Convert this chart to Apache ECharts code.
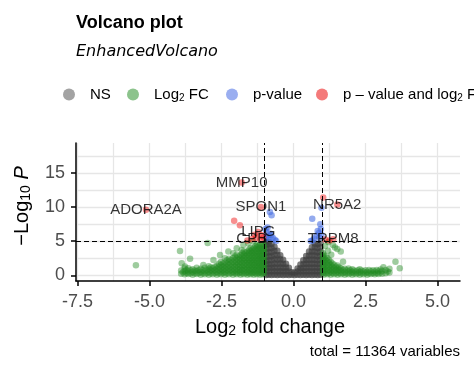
<!DOCTYPE html>
<html>
<head>
<meta charset="utf-8">
<script src="https://cdn.jsdelivr.net/npm/echarts@6/dist/echarts.min.js"></script>
<style>
html,body{margin:0;padding:0;background:#fff;}
#chart{width:474px;height:381px;}
</style>
</head>
<body>
<div id="chart"></div>
<script>
// ---------- data ----------
var X_TICKS = [-7.5, -5, -2.5, 0, 2.5, 5];
var Y_TICKS = [0, 5, 10, 15];
var X_GRID = [-7.5, -6.25, -5, -3.75, -2.5, -1.25, 0, 1.25, 2.5, 3.75, 5];
var Y_GRID = [0, 2.5, 5, 7.5, 10, 12.5, 15, 17.5];
var FC_CUTOFF = [-1, 1];
var P_CUTOFF = 5;

// NS: not significant (grey volcano body)
var NS_POINTS = [
  [-0.95,0.05],[-0.95,0.55],[-0.95,1.05],[-0.95,1.6],[-0.95,2.1],[-0.95,2.7],[-0.95,3.3],[-0.95,3.9],[-0.95,4.5],[-0.95,4.9],
  [-0.86,0.1],[-0.86,0.6],[-0.86,1.1],[-0.86,1.65],[-0.86,2.2],[-0.86,2.8],[-0.86,3.4],[-0.86,4.0],[-0.86,4.6],[-0.86,4.9],
  [-0.76,0.05],[-0.76,0.55],[-0.76,1.1],[-0.76,1.6],[-0.76,2.2],[-0.76,2.8],[-0.76,3.4],[-0.76,4.0],[-0.76,4.6],
  [-0.66,0.1],[-0.66,0.6],[-0.66,1.15],[-0.66,1.75],[-0.66,2.35],[-0.66,2.95],[-0.66,3.6],[-0.66,4.2],
  [-0.56,0.05],[-0.56,0.55],[-0.56,1.1],[-0.56,1.7],[-0.56,2.3],[-0.56,2.95],[-0.56,3.6],
  [-0.46,0.1],[-0.46,0.6],[-0.46,1.15],[-0.46,1.75],[-0.46,2.35],[-0.46,2.95],
  [-0.36,0.05],[-0.36,0.55],[-0.36,1.1],[-0.36,1.7],[-0.36,2.3],
  [-0.26,0.1],[-0.26,0.6],[-0.26,1.15],[-0.26,1.7],
  [-0.16,0.05],[-0.16,0.55],[-0.16,1.1],
  [-0.06,0.1],[-0.06,0.45],
  [0.04,0.05],[0.04,0.4],
  [0.14,0.1],[0.14,0.55],[0.14,1.0],
  [0.24,0.05],[0.24,0.55],[0.24,1.05],[0.24,1.6],
  [0.34,0.1],[0.34,0.6],[0.34,1.1],[0.34,1.65],[0.34,2.2],
  [0.44,0.05],[0.44,0.55],[0.44,1.1],[0.44,1.7],[0.44,2.3],[0.44,2.85],
  [0.54,0.1],[0.54,0.6],[0.54,1.15],[0.54,1.7],[0.54,2.3],[0.54,2.9],[0.54,3.5],
  [0.64,0.05],[0.64,0.55],[0.64,1.1],[0.64,1.7],[0.64,2.3],[0.64,2.9],[0.64,3.5],[0.64,4.1],
  [0.74,0.1],[0.74,0.6],[0.74,1.15],[0.74,1.7],[0.74,2.3],[0.74,2.9],[0.74,3.5],[0.74,4.1],[0.74,4.65],
  [0.84,0.05],[0.84,0.55],[0.84,1.1],[0.84,1.65],[0.84,2.2],[0.84,2.8],[0.84,3.4],[0.84,4.0],[0.84,4.6],
  [0.94,0.1],[0.94,0.6],[0.94,1.1],[0.94,1.7],[0.94,2.3],[0.94,2.9],[0.94,3.5],[0.94,4.1],[0.94,4.7]
];

// Log2 FC only (green)
var FC_POINTS = [
  [-5.47,1.47],[-3.94,3.55],[-2.98,4.75],[-3.59,2.45],[-3.88,1.76],[-3.77,1.28],[-3.65,1.05],[-2.78,2.25],
  [-3.13,1.5],[-3.36,1.13],[-2.55,2.98],[-2.38,2.5],[-2.26,3.48],[-2.09,3.24],[-1.97,3.97],[-1.8,3.72],
  [-1.74,4.46],[-1.57,4.7],[-1.4,4.95],
  [-3.9,0.25],[-3.9,0.7],
  [-3.84,0.45],
  [-3.78,0.15],[-3.78,0.6],[-3.78,1.0],
  [-3.71,0.35],[-3.71,0.8],
  [-3.65,0.2],[-3.65,0.55],
  [-3.57,0.3],[-3.57,0.75],
  [-3.5,0.1],[-3.5,0.5],[-3.5,0.9],
  [-3.43,0.3],[-3.43,0.7],
  [-3.36,0.2],[-3.36,0.6],
  [-3.29,0.35],[-3.29,0.8],
  [-3.22,0.1],[-3.22,0.5],[-3.22,0.95],
  [-3.15,0.3],[-3.15,0.75],
  [-3.08,0.15],[-3.08,0.6],[-3.08,1.1],
  [-3.01,0.35],[-3.01,0.8],
  [-2.94,0.1],[-2.94,0.5],[-2.94,0.95],[-2.94,1.35],
  [-2.87,0.3],[-2.87,0.75],[-2.87,1.15],
  [-2.8,0.15],[-2.8,0.6],[-2.8,1.05],
  [-2.73,0.35],[-2.73,0.8],[-2.73,1.25],
  [-2.66,0.1],[-2.66,0.5],[-2.66,0.95],[-2.66,1.4],
  [-2.59,0.3],[-2.59,0.75],[-2.59,1.2],[-2.59,1.7],
  [-2.52,0.15],[-2.52,0.55],[-2.52,1.0],[-2.52,1.5],[-2.52,1.95],
  [-2.45,0.35],[-2.45,0.8],[-2.45,1.25],[-2.45,1.7],
  [-2.38,0.1],[-2.38,0.5],[-2.38,0.95],[-2.38,1.4],[-2.38,1.9],
  [-2.31,0.3],[-2.31,0.75],[-2.31,1.2],[-2.31,1.7],[-2.31,2.2],
  [-2.24,0.15],[-2.24,0.6],[-2.24,1.05],[-2.24,1.5],[-2.24,2.0],[-2.24,2.45],
  [-2.17,0.35],[-2.17,0.8],[-2.17,1.25],[-2.17,1.75],[-2.17,2.25],
  [-2.1,0.1],[-2.1,0.5],[-2.1,0.95],[-2.1,1.45],[-2.1,1.95],[-2.1,2.5],
  [-2.03,0.3],[-2.03,0.75],[-2.03,1.25],[-2.03,1.75],[-2.03,2.25],[-2.03,2.75],
  [-1.97,0.15],[-1.97,0.55],[-1.97,1.0],[-1.97,1.5],[-1.97,2.0],[-1.97,2.5],[-1.97,3.0],
  [-1.9,0.35],[-1.9,0.8],[-1.9,1.25],[-1.9,1.75],[-1.9,2.25],[-1.9,2.75],
  [-1.84,0.1],[-1.84,0.5],[-1.84,0.95],[-1.84,1.45],[-1.84,1.95],[-1.84,2.45],[-1.84,2.95],
  [-1.78,0.3],[-1.78,0.8],[-1.78,1.3],[-1.78,1.8],[-1.78,2.3],[-1.78,2.8],[-1.78,3.25],
  [-1.72,0.15],[-1.72,0.6],[-1.72,1.05],[-1.72,1.55],[-1.72,2.05],[-1.72,2.55],[-1.72,3.05],[-1.72,3.5],
  [-1.66,0.35],[-1.66,0.85],[-1.66,1.3],[-1.66,1.8],[-1.66,2.3],[-1.66,2.8],[-1.66,3.3],
  [-1.6,0.1],[-1.6,0.5],[-1.6,1.0],[-1.6,1.5],[-1.6,2.0],[-1.6,2.5],[-1.6,3.0],[-1.6,3.5],
  [-1.54,0.3],[-1.54,0.8],[-1.54,1.3],[-1.54,1.8],[-1.54,2.3],[-1.54,2.8],[-1.54,3.3],[-1.54,3.8],
  [-1.49,0.15],[-1.49,0.55],[-1.49,1.05],[-1.49,1.55],[-1.49,2.05],[-1.49,2.55],[-1.49,3.05],[-1.49,3.55],[-1.49,4.0],
  [-1.43,0.35],[-1.43,0.85],[-1.43,1.3],[-1.43,1.8],[-1.43,2.3],[-1.43,2.8],[-1.43,3.3],[-1.43,3.8],
  [-1.38,0.1],[-1.38,0.5],[-1.38,1.0],[-1.38,1.5],[-1.38,2.0],[-1.38,2.5],[-1.38,3.0],[-1.38,3.5],[-1.38,4.0],
  [-1.32,0.3],[-1.32,0.8],[-1.32,1.3],[-1.32,1.8],[-1.32,2.3],[-1.32,2.8],[-1.32,3.3],[-1.32,3.8],[-1.32,4.3],
  [-1.27,0.15],[-1.27,0.6],[-1.27,1.1],[-1.27,1.6],[-1.27,2.1],[-1.27,2.6],[-1.27,3.1],[-1.27,3.6],[-1.27,4.1],[-1.27,4.5],
  [-1.21,0.35],[-1.21,0.85],[-1.21,1.35],[-1.21,1.85],[-1.21,2.35],[-1.21,2.85],[-1.21,3.35],[-1.21,3.85],[-1.21,4.3],
  [-1.16,0.1],[-1.16,0.5],[-1.16,1.0],[-1.16,1.5],[-1.16,2.0],[-1.16,2.5],[-1.16,3.0],[-1.16,3.5],[-1.16,4.0],[-1.16,4.5],
  [-1.11,0.3],[-1.11,0.8],[-1.11,1.3],[-1.11,1.8],[-1.11,2.3],[-1.11,2.8],[-1.11,3.3],[-1.11,3.8],[-1.11,4.3],
  [-1.06,0.15],[-1.06,0.55],[-1.06,1.05],[-1.06,1.55],[-1.06,2.05],[-1.06,2.55],[-1.06,3.05],[-1.06,3.55],[-1.06,4.05],[-1.06,4.6],
  [-1.02,0.35],[-1.02,0.85],[-1.02,1.35],[-1.02,1.85],[-1.02,2.35],[-1.02,2.85],[-1.02,3.35],[-1.02,3.85],[-1.02,4.35],
  [1.37,4.46],[1.52,3.87],[1.64,3.48],[1.31,3.0],[1.72,2.0],[3.54,2.0],[3.69,1.03],[3.12,1.2],
  [1.21,4.9],[1.1,4.3],[1.44,4.07],[1.2,3.6],
  [1.02,0.3],[1.02,0.8],[1.02,1.3],[1.02,1.8],[1.02,2.3],[1.02,2.8],[1.02,3.3],
  [1.05,0.1],[1.05,0.55],[1.05,1.0],[1.05,1.5],[1.05,2.0],[1.05,2.5],[1.05,3.0],
  [1.11,0.35],[1.11,0.85],[1.11,1.3],[1.11,1.8],[1.11,2.3],[1.11,2.8],
  [1.17,0.15],[1.17,0.6],[1.17,1.05],[1.17,1.55],[1.17,2.05],[1.17,2.55],
  [1.23,0.35],[1.23,0.8],[1.23,1.3],[1.23,1.8],[1.23,2.25],
  [1.29,0.1],[1.29,0.55],[1.29,1.0],[1.29,1.5],[1.29,2.0],
  [1.35,0.35],[1.35,0.8],[1.35,1.25],[1.35,1.75],
  [1.41,0.15],[1.41,0.6],[1.41,1.05],[1.41,1.55],
  [1.47,0.35],[1.47,0.8],[1.47,1.25],
  [1.53,0.1],[1.53,0.55],[1.53,1.0],[1.53,1.45],
  [1.59,0.35],[1.59,0.8],[1.59,1.2],
  [1.65,0.15],[1.65,0.6],[1.65,1.05],
  [1.71,0.35],[1.71,0.8],
  [1.78,0.1],[1.78,0.5],[1.78,0.95],
  [1.84,0.3],[1.84,0.75],
  [1.91,0.15],[1.91,0.55],[1.91,1.0],
  [1.97,0.35],[1.97,0.75],
  [2.04,0.1],[2.04,0.5],[2.04,0.9],
  [2.1,0.3],[2.1,0.7],
  [2.17,0.15],[2.17,0.55],
  [2.23,0.35],[2.23,0.75],
  [2.3,0.1],[2.3,0.5],[2.3,0.9],
  [2.36,0.3],[2.36,0.7],
  [2.43,0.15],[2.43,0.55],
  [2.5,0.35],[2.5,0.75],
  [2.56,0.1],[2.56,0.5],
  [2.62,0.3],[2.62,0.8],
  [2.69,0.2],[2.69,0.6],
  [2.76,0.35],[2.76,0.75],
  [2.82,0.15],[2.82,0.55],
  [2.89,0.35],[2.89,0.8],
  [2.95,0.2],[2.95,0.6],
  [3.02,0.4],[3.02,0.85],
  [3.08,0.25],[3.08,0.65],
  [3.2,0.3],[3.2,0.8],
  [3.27,0.55],
  [3.33,0.4],[3.33,0.95]
];

// p-value only (blue)
var P_POINTS = [
  [-0.82,9.3],[-0.76,8.8],[-0.93,6.3],[-0.88,5.8],[-0.8,6.1],[-0.72,5.5],[-0.65,5.2],[-0.85,5.35],
  [-0.95,5.6],[-0.78,5.9],[-0.6,5.05],[-0.9,7.0],[-0.97,6.8],
  [0.65,8.3],[0.97,9.9],[0.93,7.5],[0.95,6.8],[0.88,6.2],[0.8,5.8],[0.72,5.4],[0.9,5.5],
  [0.66,5.1],[0.97,5.9],[0.84,6.5],[0.6,5.05]
];

// p-value and log2 FC (red)
var FCP_POINTS = [
  [-5.12,9.6],[-1.8,13.6],[-1.13,10.0],[-2.06,8.0],[-1.86,7.35],[-1.22,6.37],[-1.1,5.88],[-1.3,5.5],
  [-1.45,5.3],[-1.15,5.25],[-1.05,5.6],[-1.6,5.1],[-1.35,5.95],
  [1.03,11.4],[1.52,10.4],[1.1,5.25],[1.25,5.1],[1.38,5.3]
];
// gene labels: index into FCP_POINTS
var GENE_NAMES = ['ADORA2A','MMP10','SPON1','LIPG','CPB','NR5A2','TRPM8'];
var GENE_INDEX = [0, 1, 2, 5, 8, 14, 17];

var TOTAL = 11364;

// ---------- styling / layout ----------
var FONT = 'Liberation Sans, Arial, Helvetica, sans-serif';
var LABEL_OFFSETS = [[0,1],[0,0],[0,2],[7,-4],[-10,2],[-1,2],[1,-2]];

var labelData = GENE_INDEX.map(function (idx, k) {
  return {
    value: FCP_POINTS[idx],
    label: {
      show: true, position: 'inside', formatter: GENE_NAMES[k],
      color: '#000', fontSize: 15, fontFamily: FONT, offset: LABEL_OFFSETS[k]
    }
  };
});

var X_MIN = -7.55, X_MAX = 5.78, Y_MIN = -0.83, Y_MAX = 19.4;
var SYM = 6.5;

function legend(left, name, iconColor) {
  return {
    left: left, top: 87, padding: 0, itemWidth: 12, itemHeight: 12, icon: 'circle',
    selectedMode: false,
    data: [{ name: name, itemStyle: { color: iconColor, opacity: 1 } }],
    formatter: function (n) {
      if (n === 'Log2 FC') return '{n|Log}{s|2}{n| FC}';
      if (n === 'p - value and log2 FC') return '{n|p – value and log}{s|2}{n| FC}';
      return '{n|' + n + '}';
    },
    textStyle: {
      padding: [0, 0, 0, 10],
      rich: {
        n: { fontSize: 15, color: '#000', fontFamily: FONT },
        s: { fontSize: 10, color: '#000', fontFamily: FONT, padding: [8, 0, 0, 0] }
      }
    }
  };
}

var chart = echarts.init(document.getElementById('chart'), null, { renderer: 'canvas' });
chart.setOption({
  animation: false,
  backgroundColor: '#fff',
  title: {
    left: 76, top: 14, padding: 0, itemGap: 12,
    text: 'Volcano plot',
    textStyle: { fontSize: 18, fontWeight: 'bold', color: '#000', fontFamily: FONT },
    subtext: 'EnhancedVolcano',
    subtextStyle: { fontSize: 16, fontStyle: 'italic', color: '#000', fontFamily: 'DejaVu Sans' }
  },
  legend: [
    legend(63, 'NS', '#a3a3a3'),
    legend(127, 'Log2 FC', '#8cc38c'),
    legend(226, 'p-value', '#9aaef0'),
    legend(316, 'p - value and log2 FC', '#f47a7a')
  ],
  grid: { left: 76, right: 14, top: 143, bottom: 100 },
  xAxis: [
    {
      type: 'value', min: X_MIN, max: X_MAX, position: 'bottom',
      axisLine: { show: false }, axisLabel: { show: false },
      axisTick: { show: false, customValues: X_GRID },
      splitLine: { show: true, lineStyle: { color: '#e6e6e6', width: 1.3 } }
    },
    {
      type: 'value', min: X_MIN, max: X_MAX, position: 'bottom',
      axisLine: { show: true, onZero: false, lineStyle: { color: '#000', width: 1.5 } },
      axisTick: { show: true, customValues: X_TICKS, length: 5, lineStyle: { color: '#000', width: 1.5 } },
      axisLabel: {
        customValues: X_TICKS, margin: 12, fontSize: 18, color: '#4d4d4d', fontFamily: FONT,
        formatter: function (v) { return v.toFixed(1); }
      },
      splitLine: { show: false }
    }
  ],
  yAxis: [
    {
      type: 'value', min: Y_MIN, max: Y_MAX, position: 'left',
      axisLine: { show: false }, axisLabel: { show: false },
      axisTick: { show: false, customValues: Y_GRID },
      splitLine: { show: true, lineStyle: { color: '#e6e6e6', width: 1.3 } }
    },
    {
      type: 'value', min: Y_MIN, max: Y_MAX, position: 'left',
      axisLine: { show: true, onZero: false, lineStyle: { color: '#000', width: 1.5 } },
      axisTick: { show: true, customValues: Y_TICKS, length: 5, lineStyle: { color: '#000', width: 1.5 } },
      axisLabel: {
        customValues: Y_TICKS, margin: 11, fontSize: 18, color: '#4d4d4d', fontFamily: FONT
      },
      splitLine: { show: false }
    }
  ],
  series: [
    {
      name: 'NS', type: 'scatter', xAxisIndex: 0, yAxisIndex: 0, symbolSize: SYM,
      itemStyle: { color: 'rgba(64,64,64,0.85)' }, data: NS_POINTS, z: 2
    },
    {
      name: 'Log2 FC', type: 'scatter', xAxisIndex: 0, yAxisIndex: 0, symbolSize: SYM,
      itemStyle: { color: 'rgba(34,139,34,0.55)' }, data: FC_POINTS, z: 2
    },
    {
      name: 'p-value', type: 'scatter', xAxisIndex: 0, yAxisIndex: 0, symbolSize: SYM,
      itemStyle: { color: 'rgba(65,105,225,0.7)' }, data: P_POINTS, z: 2
    },
    {
      name: 'p - value and log2 FC', type: 'scatter', xAxisIndex: 0, yAxisIndex: 0, symbolSize: SYM,
      itemStyle: { color: 'rgba(238,0,0,0.55)' }, data: FCP_POINTS, z: 3
    },
    {
      name: 'cutoffs', type: 'scatter', xAxisIndex: 0, yAxisIndex: 0, data: [], z: 4, silent: true,
      markLine: {
        silent: true, symbol: ['none', 'none'], label: { show: false },
        lineStyle: { color: '#000', type: [5, 3], width: 1 },
        data: [{ xAxis: FC_CUTOFF[0] }, { xAxis: FC_CUTOFF[1] }, { yAxis: P_CUTOFF }]
      }
    },
    {
      name: 'gene labels', type: 'scatter', xAxisIndex: 0, yAxisIndex: 0, symbolSize: 0,
      itemStyle: { color: 'rgba(0,0,0,0)' }, data: labelData, z: 5, silent: true,
      labelLayout: { hideOverlap: false }
    }
  ],
  graphic: [
    {
      type: 'text', x: 270, y: 327,
      style: {
        text: '{n|Log}{s|2}{n| fold change}', align: 'center', verticalAlign: 'middle',
        rich: {
          n: { fontSize: 20, fill: '#000', fontFamily: FONT },
          s: { fontSize: 14, fill: '#000', fontFamily: FONT, padding: [9, 0, 0, 0] }
        }
      }
    },
    {
      type: 'text', x: 22, y: 206, rotation: Math.PI / 2,
      style: {
        text: '{n|−Log}{s|10}{i| P}', align: 'center', verticalAlign: 'middle',
        rich: {
          n: { fontSize: 20, fill: '#000', fontFamily: FONT },
          s: { fontSize: 14, fill: '#000', fontFamily: FONT, padding: [9, 0, 0, 0] },
          i: { fontSize: 20, fill: '#000', fontFamily: FONT, fontStyle: 'italic' }
        }
      }
    },
    {
      type: 'text', right: 14, top: 344,
      style: { text: 'total = ' + TOTAL + ' variables', fontSize: 15, fill: '#000', fontFamily: FONT }
    }
  ]
});
</script>
</body>
</html>
